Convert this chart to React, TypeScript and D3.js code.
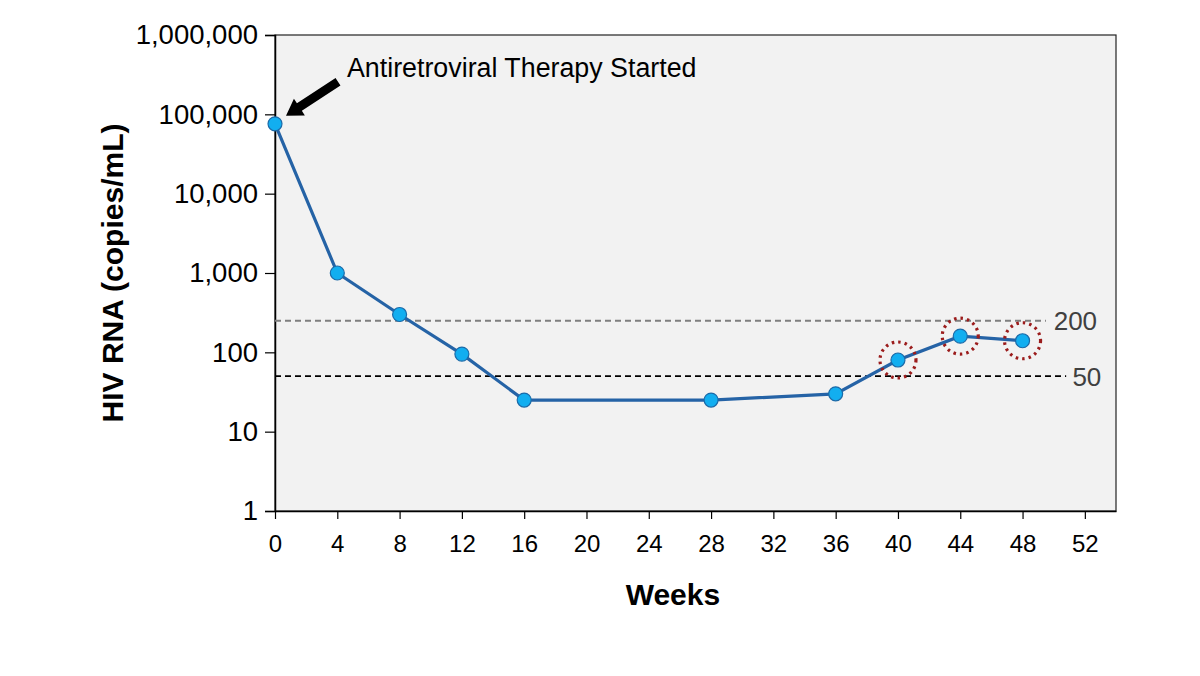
import * as d3 from "d3";
import React, { useEffect, useRef } from "react";

// Weeks since start and viral load readings (copies/mL)
const weeks = [0, 4, 8, 12, 16, 28, 36, 40, 44, 48];
const viralLoad = [76000, 1000, 300, 95, 25, 25, 30, 80, 160, 140];

// Weeks whose points are ringed by a dotted red circle
const flaggedWeeks = [40, 44, 48];

// Axis ticks
const xTicks = [0, 4, 8, 12, 16, 20, 24, 28, 32, 36, 40, 44, 48, 52];
const yTicks = [1, 10, 100, 1000, 10000, 100000, 1000000];

// Reference thresholds (position as drawn, label as printed)
const thresholdValues = [250, 50];
const thresholdLabels = ["200", "50"];
const thresholdColors = ["#7f7f7f", "#000000"];

const annotationText = "Antiretroviral Therapy Started";

const App: React.FC = () => {
  const chartRef = useRef<HTMLDivElement>(null);

  useEffect(() => {
    if (!chartRef.current) return;
    d3.select(chartRef.current).selectAll("*").remove();

    const width = 1200,
      height = 676,
      margin = { top: 35, right: 84, bottom: 165, left: 275 };
    const font = "Arial, 'Liberation Sans', sans-serif";

    const svg = d3
      .select(chartRef.current)
      .append("svg")
      .attr("width", width)
      .attr("height", height)
      .style("position", "absolute")
      .style("left", "0px")
      .style("top", "0px")
      .style("background", "#ffffff");

    const xScale = d3
      .scaleLinear()
      .domain([0, 54])
      .range([margin.left, width - margin.right]);

    const yScale = d3
      .scaleLog()
      .domain([1, 1000000])
      .range([height - margin.bottom, margin.top]);

    const x0 = xScale(0);
    const x1 = xScale(54);
    const yBottom = yScale(1);
    const yTop = yScale(1000000);

    // Plot background
    svg
      .append("rect")
      .attr("x", x0)
      .attr("y", yTop)
      .attr("width", x1 - x0)
      .attr("height", yBottom - yTop)
      .attr("fill", "#f2f2f2")
      .attr("stroke", "#222")
      .attr("stroke-width", 1.2);

    // Y axis
    const yAxis = svg
      .append("g")
      .attr("transform", `translate(${x0},0)`)
      .call(
        d3
          .axisLeft(yScale)
          .tickValues(yTicks)
          .tickSize(10)
          .tickPadding(7)
          .tickFormat((d) => d3.format(",")(d as number))
      );
    yAxis.select(".domain").attr("stroke", "#000").attr("stroke-width", 1.5);
    yAxis.selectAll(".tick line").attr("stroke", "#000").attr("stroke-width", 1.2);
    yAxis
      .selectAll(".tick text")
      .attr("fill", "#000")
      .style("font-family", font)
      .style("font-size", "27.5px");

    // X axis
    const xAxis = svg
      .append("g")
      .attr("transform", `translate(0,${yBottom})`)
      .call(d3.axisBottom(xScale).tickValues(xTicks).tickSize(8).tickPadding(16).tickSizeOuter(0));
    xAxis.select(".domain").attr("stroke", "#000").attr("stroke-width", 1.5);
    xAxis.selectAll(".tick line").attr("stroke", "#000").attr("stroke-width", 1.2);
    xAxis
      .selectAll(".tick text")
      .attr("fill", "#000")
      .style("font-family", font)
      .style("font-size", "24px");

    // Threshold lines
    const thresholds = thresholdValues.map((v, i) => ({
      value: v,
      label: thresholdLabels[i],
      color: thresholdColors[i],
    }));
    const thrG = svg.append("g");
    thrG
      .selectAll("line")
      .data(thresholds)
      .enter()
      .append("line")
      .attr("x1", x0)
      .attr("x2", (d, i) => (i === 0 ? xScale(49.5) : xScale(50.8)))
      .attr("y1", (d) => yScale(d.value))
      .attr("y2", (d) => yScale(d.value))
      .attr("stroke", (d) => d.color)
      .attr("stroke-width", 1.8)
      .attr("stroke-dasharray", "6,4");
    thrG
      .selectAll("text")
      .data(thresholds)
      .enter()
      .append("text")
      .attr("x", (d, i) => (i === 0 ? xScale(50) : xScale(51.2)))
      .attr("y", (d) => yScale(d.value))
      .attr("dy", "0.36em")
      .attr("fill", "#404040")
      .style("font-family", font)
      .style("font-size", "26px")
      .text((d) => d.label);

    const points = weeks.map((w, i) => ({ week: w, value: viralLoad[i] }));

    // Line
    const line = d3
      .line<{ week: number; value: number }>()
      .x((d) => xScale(d.week))
      .y((d) => yScale(d.value));
    svg
      .append("path")
      .datum(points)
      .attr("d", line)
      .attr("fill", "none")
      .attr("stroke", "#2563a6")
      .attr("stroke-width", 3.2);

    // Dotted red circles on flagged points
    svg
      .append("g")
      .selectAll("circle")
      .data(points.filter((p) => flaggedWeeks.includes(p.week)))
      .enter()
      .append("circle")
      .attr("cx", (d) => xScale(d.week))
      .attr("cy", (d) => yScale(d.value))
      .attr("r", 18)
      .attr("fill", "none")
      .attr("stroke", "#9b1c1c")
      .attr("stroke-width", 3.2)
      .attr("stroke-dasharray", "2.5,4");

    // Markers
    svg
      .append("g")
      .selectAll("circle")
      .data(points)
      .enter()
      .append("circle")
      .attr("cx", (d) => xScale(d.week))
      .attr("cy", (d) => yScale(d.value))
      .attr("r", 7)
      .attr("fill", "#12aef0")
      .attr("stroke", "#1b6aa8")
      .attr("stroke-width", 1.2);

    // Annotation arrow pointing at week 0
    const tipX = xScale(weeks[0]) + 11;
    const tipY = yScale(viralLoad[0]) - 8;
    const tailX = tipX + 52;
    const tailY = tipY - 34;
    const ang = Math.atan2(tipY - tailY, tipX - tailX);
    const headLen = 16,
      headW = 10,
      shaftW = 4.5;
    const ux = Math.cos(ang),
      uy = Math.sin(ang);
    const px = -uy,
      py = ux;
    const bx = tipX - ux * headLen,
      by = tipY - uy * headLen;
    const arrowPts: [number, number][] = [
      [tailX + px * shaftW, tailY + py * shaftW],
      [bx + px * shaftW, by + py * shaftW],
      [bx + px * headW, by + py * headW],
      [tipX, tipY],
      [bx - px * headW, by - py * headW],
      [bx - px * shaftW, by - py * shaftW],
      [tailX - px * shaftW, tailY - py * shaftW],
    ];
    svg
      .append("polygon")
      .attr("points", arrowPts.map((p) => p.join(",")).join(" "))
      .attr("fill", "#000");

    svg
      .append("text")
      .attr("x", tailX + 9)
      .attr("y", tailY - 5)
      .attr("fill", "#000")
      .style("font-family", font)
      .style("font-size", "26.8px")
      .text(annotationText);

    // Axis titles
    svg
      .append("text")
      .attr("x", (x0 + xScale(52)) / 2 - 7)
      .attr("y", yBottom + 94)
      .attr("text-anchor", "middle")
      .attr("fill", "#000")
      .style("font-family", font)
      .style("font-size", "30px")
      .style("font-weight", "bold")
      .text("Weeks");

    svg
      .append("text")
      .attr("transform", `translate(123,${(yTop + yBottom) / 2}) rotate(-90)`)
      .attr("text-anchor", "middle")
      .attr("fill", "#000")
      .style("font-family", font)
      .style("font-size", "30px")
      .style("font-weight", "bold")
      .text("HIV RNA (copies/mL)");
  }, []);

  return <div ref={chartRef}></div>;
};

export default App;
